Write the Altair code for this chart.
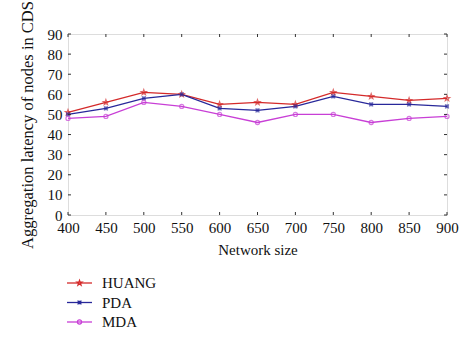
import altair as alt
import pandas as pd

sizes = [400, 450, 500, 550, 600, 650, 700, 750, 800, 850, 900]
huang = [51, 56, 61, 60, 55, 56, 55, 61, 59, 57, 58]
pda = [50, 53, 58, 60, 53, 52, 54, 59, 55, 55, 54]
mda = [48, 49, 56, 54, 50, 46, 50, 50, 46, 48, 49]
series = ["HUANG", "PDA", "MDA"]
colors = ["#d42a2a", "#28289a", "#c83fd6"]
y_ticks = [0, 10, 20, 30, 40, 50, 60, 70, 80, 90]

rows = []
for name, vals in zip(series, [huang, pda, mda]):
    for s, v in zip(sizes, vals):
        rows.append({"size": s, "value": v, "series": name})
df = pd.DataFrame(rows)
df_leg = pd.DataFrame({"series": series})
df_yt = pd.DataFrame({"v": y_ticks})
df_xt = pd.DataFrame({"v": sizes})

FONT = "Liberation Serif"
STAR = "M0,-1L0.235,-0.324L0.951,-0.309L0.38,0.124L0.588,0.809L0,0.4L-0.588,0.809L-0.38,0.124L-0.951,-0.309L-0.235,-0.324Z"
XMARK = "M-0.7,-0.7L0.7,0.7M-0.7,0.7L0.7,-0.7M-0.45,-0.45L0.45,-0.45L0.45,0.45L-0.45,0.45Z"
CIRC = "M-0.75,0A0.75,0.75,0,1,0,0.75,0A0.75,0.75,0,1,0,-0.75,0Z"
marker_paths = [STAR, XMARK, CIRC]

W, H = 379, 181
x_scale = alt.Scale(domain=[400, 900], nice=False, zero=False)
y_scale = alt.Scale(domain=[0, 90], nice=False)
color_scale = alt.Scale(domain=series, range=colors)
shape_scale = alt.Scale(domain=series, range=marker_paths)
leg_y = alt.Y("series:N", scale=alt.Scale(type="point", domain=series, range=[249, 288], padding=0), axis=None)

base = alt.Chart(df)

lines = base.mark_line(strokeWidth=1.3).encode(
    x=alt.X("size:Q", scale=x_scale, axis=alt.Axis(
        title="Network size", values=sizes, ticks=False, domain=False, grid=False,
        labelFlush=False, labelOverlap=False,
        labelFont=FONT, labelFontSize=15, labelColor="#111", labelPadding=5,
        titleFont=FONT, titleFontSize=15, titleFontWeight="normal", titleColor="#111", titlePadding=7)),
    y=alt.Y("value:Q", scale=y_scale, axis=alt.Axis(
        title="Aggregation latency of nodes in CDS", values=y_ticks, ticks=False,
        domain=False, grid=False, labelFlush=False,
        labelFont=FONT, labelFontSize=15, labelColor="#111", labelPadding=6,
        titleFont=FONT, titleFontSize=16.5, titleFontWeight="normal", titleColor="#111", titlePadding=12)),
    color=alt.Color("series:N", scale=color_scale, legend=None),
    detail="series:N",
)

points = base.mark_point(filled=False, size=30, strokeWidth=1.2).encode(
    x=alt.X("size:Q", scale=x_scale, axis=None),
    y=alt.Y("value:Q", scale=y_scale, axis=None),
    color=alt.Color("series:N", scale=color_scale, legend=None),
    shape=alt.Shape("series:N", scale=shape_scale, legend=None),
)

tick_col = "#333"
yt = alt.Chart(df_yt)
xt = alt.Chart(df_xt)
ytick_left = yt.mark_rule(color=tick_col).encode(
    y=alt.Y("v:Q", scale=y_scale, axis=None), x=alt.value(0), x2=alt.value(3))
ytick_right = yt.mark_rule(color=tick_col).encode(
    y=alt.Y("v:Q", scale=y_scale, axis=None), x=alt.value(W - 3), x2=alt.value(W))
xtick_bottom = xt.mark_rule(color=tick_col).encode(
    x=alt.X("v:Q", scale=x_scale, axis=None), y=alt.value(H - 3), y2=alt.value(H))
xtick_top = xt.mark_rule(color=tick_col).encode(
    x=alt.X("v:Q", scale=x_scale, axis=None), y=alt.value(0), y2=alt.value(3))

lg = alt.Chart(df_leg)
leg_line = lg.mark_rule(strokeWidth=1.3).encode(
    y=leg_y, x=alt.value(-1), x2=alt.value(24),
    color=alt.Color("series:N", scale=color_scale, legend=None))
leg_pt = lg.mark_point(filled=False, size=30, strokeWidth=1.2, opacity=1).encode(
    y=leg_y, x=alt.value(11.5),
    color=alt.Color("series:N", scale=color_scale, legend=None),
    shape=alt.Shape("series:N", scale=shape_scale, legend=None))
leg_txt = lg.mark_text(align="left", baseline="middle", font=FONT, fontSize=15, color="#111").encode(
    y=leg_y, x=alt.value(34), text="series:N")

chart = alt.layer(
    lines, points, ytick_left, ytick_right, xtick_bottom, xtick_top, leg_line, leg_pt, leg_txt
).resolve_scale(
    x="independent", y="independent"
).properties(
    width=W, height=H,
    padding={"left": 68, "top": 34, "right": 27, "bottom": 133},
    autosize="none",
).configure_view(
    stroke="#333", strokeWidth=1.2
).configure(background="white")

chart.save("out.html", embed_options={"renderer": "svg", "actions": False})
